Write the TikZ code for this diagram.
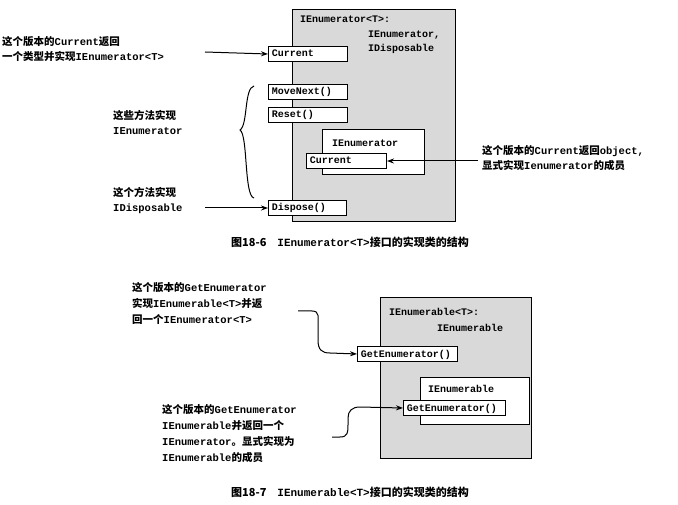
\documentclass[tikz,border=0pt]{standalone}
\usepackage{fontspec}
\setmainfont{Liberation Mono}
\newfontfamily\cjk{Noto Sans CJK SC}
\newcommand{\zh}[1]{{\cjk #1}}
\usetikzlibrary{arrows.meta}
\begin{document}
\begin{tikzpicture}[x=1pt,y=-1pt,
  lbl/.style={anchor=west,inner sep=0pt,font=\fontsize{10.5}{12}\selectfont},
  mbox/.style={draw,line width=1pt,fill=white,anchor=west,inner xsep=0pt,inner ysep=0pt,minimum height=15pt,font=\fontsize{10}{11}\selectfont\bfseries,align=left,text depth=2pt,text height=8pt},
  outer/.style={draw,line width=1pt,fill=gray!30},
  arr/.style={-{Stealth[length=7pt,width=5pt]},line width=1pt},
  captext/.style={inner sep=0pt,font=\fontsize{11}{12}\selectfont\bfseries}]
\useasboundingbox (0,0) rectangle (678,505);
% ---- top figure
\draw[outer] (292,10) rectangle (455,222);
\node[lbl,font=\fontsize{10}{11}\selectfont\bfseries] (t1) at (300,19) {IEnumerator<T>:};
\node[lbl,font=\fontsize{10}{11}\selectfont\bfseries] (t2) at (368,35) {IEnumerator,};
\node[lbl,font=\fontsize{10}{11}\selectfont\bfseries] (t3) at (368,49) {IDisposable};
\node[mbox,text width=79pt] (cur) at (268,54) {\ Current};
\node[mbox,text width=79pt] (mn) at (268,92) {\ MoveNext()};
\node[mbox,text width=79pt] (rs) at (268,115) {\ Reset()};
\draw[line width=1pt,fill=white] (322,130) rectangle (424,175);
\node[lbl,font=\fontsize{10}{11}\selectfont\bfseries] (ie) at (332,143) {IEnumerator};
\node[mbox,text width=80pt] (cur2) at (306,161) {\ Current};
\node[mbox,text width=78pt] (dsp) at (268,208) {\ Dispose()};
\node[lbl,anchor=north west,align=left,font=\fontsize{10.5}{15}\selectfont\bfseries] (l1) at (2,36) {\zh{这个版本的}Current\zh{返回}\\\zh{一个类型并实现}IEnumerator<T>};
\draw[arr] (205,52) -- (cur.west);
\node[lbl,anchor=north west,align=left,font=\fontsize{10.5}{15}\selectfont\bfseries] (l2) at (113,110) {\zh{这些方法实现}\\IEnumerator};
\draw[line width=1pt] (254,86) .. controls (244,88) and (248,125) .. (240,130) .. controls (248,135) and (244,196) .. (254,198);
\node[lbl,anchor=north west,align=left,font=\fontsize{10.5}{15}\selectfont\bfseries] (l3) at (113,187) {\zh{这个方法实现}\\IDisposable};
\draw[arr] (205,208) -- (dsp.west);
\node[lbl,anchor=north west,align=left,font=\fontsize{10.5}{15}\selectfont\bfseries] (r1) at (482,145) {\zh{这个版本的}Current\zh{返回}object,\\\zh{显式实现}Ienumerator\zh{的成员}};
\coordinate (r1a) at (478,161);
\draw[arr] (r1a) -- (cur2.east);
\node[captext] (c1) at (350,242) {\zh{图18-6}\quad IEnumerator<T>\zh{接口的实现类的结构}};
% ---- bottom figure
\draw[outer] (380,298) rectangle (531,458);
\node[lbl,font=\fontsize{10}{11}\selectfont\bfseries] (b1) at (389,312) {IEnumerable<T>:};
\node[lbl,font=\fontsize{10}{11}\selectfont\bfseries] (b2) at (437,328) {IEnumerable};
\node[mbox,text width=100pt] (ge) at (357,354) {\ GetEnumerator()};
\draw[line width=1pt,fill=white] (420,377) rectangle (529,424);
\node[lbl,font=\fontsize{10}{11}\selectfont\bfseries] (b3) at (428,389) {IEnumerable};
\node[mbox,text width=102pt] (ge2) at (403,408) {\ GetEnumerator()};
\node[lbl,anchor=north west,align=left,font=\fontsize{10.5}{16}\selectfont\bfseries] (l4) at (132,282) {\zh{这个版本的}GetEnumerator\\\zh{实现}IEnumerable<T>\zh{并返}\\\zh{回一个}IEnumerator<T>};
\coordinate (a4) at (298,311);
\draw[arr] (a4) -- (312,311) .. controls (320,311) and (318,318) .. (318,325) -- (318,340) .. controls (318,350) and (322,353) .. (330,353) -- (ge.west);
\node[lbl,anchor=north west,align=left,font=\fontsize{10.5}{16}\selectfont\bfseries] (l5) at (162,404) {\zh{这个版本的}GetEnumerator\\IEnumerable\zh{并返回一个}\\IEnumerator\zh{。显式实现为}\\IEnumerable\zh{的成员}};
\coordinate (a5) at (332,437);
\draw[arr] (a5) -- (340,437) .. controls (348,437) and (348,432) .. (348,425) -- (348,418) .. controls (348,411) and (352,407) .. (360,407) -- (ge2.west);
\node[captext] (c2) at (350,492) {\zh{图18-7}\quad IEnumerable<T>\zh{接口的实现类的结构}};
\end{tikzpicture}
\end{document}
